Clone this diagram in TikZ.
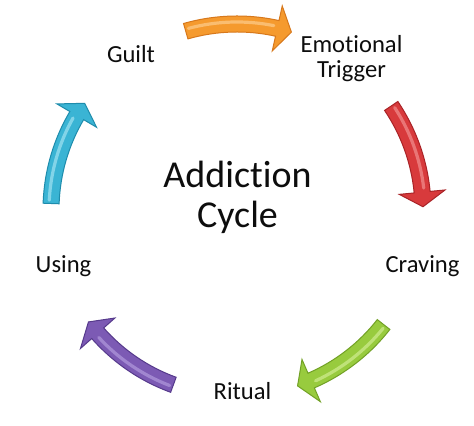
\documentclass[tikz,border=0pt]{standalone}
\usepackage{fontspec}
\setmainfont{Carlito}[Ligatures={NoCommon}]
\definecolor{orA}{HTML}{F59A2E}\definecolor{orE}{HTML}{D7781C}\definecolor{orH}{HTML}{FCC987}
\definecolor{rdA}{HTML}{D83A3C}\definecolor{rdE}{HTML}{A92327}\definecolor{rdH}{HTML}{F08A8A}
\definecolor{gnA}{HTML}{98CB3E}\definecolor{gnE}{HTML}{72A126}\definecolor{gnH}{HTML}{CDEB8C}
\definecolor{puA}{HTML}{7C5AB4}\definecolor{puE}{HTML}{563A8C}\definecolor{puH}{HTML}{AE96DA}
\definecolor{cyA}{HTML}{3AB4D4}\definecolor{cyE}{HTML}{1E8CAC}\definecolor{cyH}{HTML}{9BE0F0}
\newcommand\cyclearrow[4]{%
  \pgfmathsetmacro\hA{#2+4.5}%
  \pgfmathsetmacro\hS{#1-1.0}%
  \pgfmathsetmacro\hB{#2+5.7}%
  \filldraw[fill=#3A, draw=#3E, line width=0.5pt]
    (#1:194) arc[start angle=#1, end angle=\hA, radius=194]
    -- (\hA:209) -- (#2:186) -- (\hA:163) -- (\hA:178)
    arc[start angle=\hA, end angle=#1, radius=178] -- cycle;
  \draw[#3H, line width=1.6pt, line cap=round, opacity=0.75]
    (\hS:188) arc[start angle=\hS, end angle=\hB, radius=188];
}
\begin{document}
\begin{tikzpicture}[x=0.5pt,y=0.5pt,
  lbl/.style={inner sep=0pt, anchor=base, text=black!95, font=\fontsize{12.3}{14}\selectfont},
  ttl/.style={inner sep=0pt, anchor=base, text=black!95, font=\fontsize{19}{22}\selectfont}]
\useasboundingbox[fill=white] (0,0) rectangle (474,426);
\begin{scope}[shift={(237,216)}]
  \cyclearrow{106}{73}{or}{}
  \cyclearrow{34}{1}{rd}{}
  \cyclearrow{-38}{-71}{gn}{}
  \cyclearrow{-110}{-143}{pu}{}
  \cyclearrow{178}{145}{cy}{}
\end{scope}
\node[lbl] (emo) at (351.5,373) {Emotional};
\node[lbl] (trig) at (351.5,348) {Trigger};
\node[lbl] (guilt) at (131,363) {Guilt};
\node[lbl] (using) at (63.5,153) {Using};
\node[lbl] (crav) at (422.5,153) {Craving};
\node[lbl] (rit) at (242.5,26) {Ritual};
\node[ttl] (add) at (237.5,238) {Addiction};
\node[ttl] (cyc) at (237.5,198) {Cycle};
\end{tikzpicture}
\end{document}
